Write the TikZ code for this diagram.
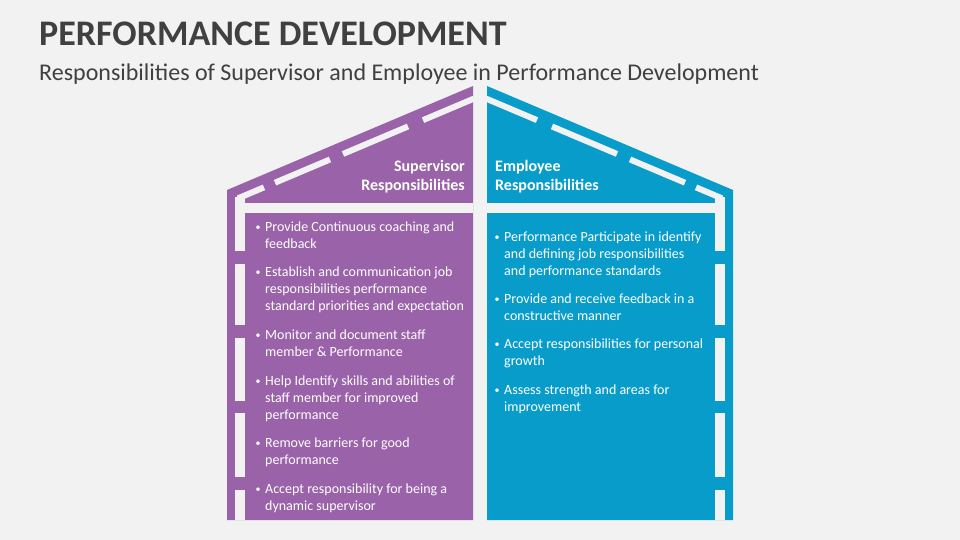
\documentclass[tikz,border=0pt]{standalone}
\usepackage{fontspec}
\setmainfont{Carlito}
\definecolor{bg}{HTML}{F2F2F2}
\definecolor{pur}{HTML}{9A62A8}
\definecolor{blu}{HTML}{089CCB}
\definecolor{ttl}{HTML}{404040}
\begin{document}
\begin{tikzpicture}[x=1pt,y=-1pt,
  item/.style={anchor=north west,inner sep=0pt,text=white,font=\fontsize{14}{17}\selectfont,align=left},
  bul/.style={anchor=center,inner sep=0pt,text=white,font=\fontsize{10}{10}\selectfont},
  head/.style={inner sep=0pt,text=white,font=\fontsize{16}{19}\selectfont\bfseries}]
\fill[bg] (0,0) rectangle (960,540);
\useasboundingbox (0,0) rectangle (960,540);
\node[anchor=base west,inner sep=0pt,text=ttl,font=\fontsize{36}{36}\selectfont\bfseries] (title) at (39,46) {PERFORMANCE DEVELOPMENT};
\node[anchor=base west,inner sep=0pt,text=ttl,font=\fontsize{24}{26}\selectfont] (sub) at (39,81) {Responsibilities of Supervisor and Employee in Performance Development};
\fill[pur] (227,520) -- (227,190) -- (473,86) -- (473,520) -- cycle;
\fill[blu] (733,520) -- (733,190) -- (487,86) -- (487,520) -- cycle;
\fill[bg] (245,203) rectangle (473,213);
\fill[bg] (715,203) rectangle (487,213);
\foreach \a/\b in {197/251,264/325,338/401,413/477,490/520}{
  \fill[bg] (235,\a) rectangle (245,\b);
  \fill[bg] (715,\a) rectangle (725,\b);
}
\foreach \a/\b in {238/264,275/330,343/408,423/474}{
  \draw[draw=bg,line width=6pt] (\a,{203-0.4228*(\a-227)}) -- (\b,{203-0.4228*(\b-227)});
  \draw[draw=bg,line width=6pt] (960-\a,{203-0.4228*(\a-227)}) -- (960-\b,{203-0.4228*(\b-227)});
}
\node[head,anchor=north east,align=right] (hs) at (465,160) {Supervisor\\Responsibilities};
\node[head,anchor=north west,align=left] (he) at (495,160) {Employee\\Responsibilities};
\foreach \y/\t [count=\i] in {222/{Provide Continuous coaching and\\feedback},
  267/{Establish and communication job\\responsibilities performance\\standard priorities and expectation},
  330/{Monitor and document staff\\member \& Performance},
  376/{Help Identify skills and abilities of\\staff member for improved\\performance},
  438/{Remove barriers for good\\performance},
  484/{Accept responsibility for being a\\dynamic supervisor}}{
  \node[bul] (lb\i) at (258,\y+6) {•};
  \node[item] (li\i) at (265,\y) {\t};
}
\foreach \y/\t [count=\i] in {232/{Performance Participate in identify\\and defining job responsibilities\\and performance standards},
  294/{Provide and receive feedback in a\\constructive  manner},
  339/{Accept responsibilities for personal\\growth},
  385/{Assess strength and areas for\\improvement}}{
  \node[bul] (rb\i) at (497,\y+6) {•};
  \node[item] (ri\i) at (504,\y) {\t};
}
\end{tikzpicture}
\end{document}
